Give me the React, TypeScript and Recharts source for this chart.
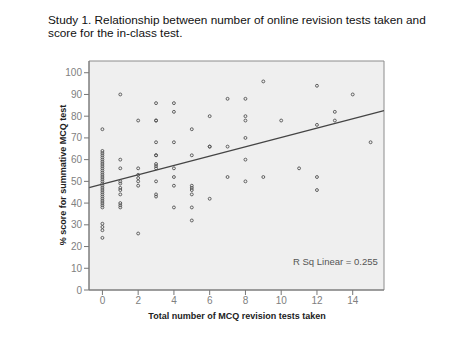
import React from 'react';
import { ScatterChart, Scatter, XAxis, YAxis, ReferenceLine, ReferenceArea } from 'recharts';

// scores (%), grouped by number of revision tests taken
const scoresAt0 = [74, 64, 63, 62, 61, 60, 59, 58, 57, 56, 55, 54, 53, 52, 51, 50, 49, 48, 47, 46, 45, 44, 43, 42, 41, 40, 39, 38, 30.5, 29, 27.5, 24];
const scoresAt1 = [90, 60, 56, 50, 49, 47, 46, 44, 40, 39, 38];
const scoresAt2 = [78, 56, 53, 51.5, 50, 48, 26];
const scoresAt3 = [86, 78, 78, 68, 62, 62, 58, 57, 56, 50, 44, 43];
const scoresAt4 = [86, 82, 68, 56, 52, 48, 38];
const scoresAt5 = [74, 62, 48, 47, 46, 44, 38, 32];
const scoresAt6 = [80, 66, 66, 42];
const scoresAt7 = [88, 66, 52];
const scoresAt8 = [88, 80, 78, 70, 60, 50];
const scoresAt9 = [96, 52];
const scoresAt10 = [78];
const scoresAt11 = [56];
const scoresAt12 = [94, 76, 52, 46];
const scoresAt13 = [82, 78];
const scoresAt14 = [90];
const scoresAt15 = [68];

const scoreLists = [
  scoresAt0, scoresAt1, scoresAt2, scoresAt3, scoresAt4, scoresAt5, scoresAt6, scoresAt7,
  scoresAt8, scoresAt9, scoresAt10, scoresAt11, scoresAt12, scoresAt13, scoresAt14, scoresAt15,
];

const xTicks = [0, 2, 4, 6, 8, 10, 12, 14];
const yTicks = [0, 10, 20, 30, 40, 50, 60, 70, 80, 90, 100];

// linear fit shown in the figure
const fitIntercept = 48.7;
const fitSlope = 2.15;
const rSquared = 0.255;

const xDomain: [number, number] = [-0.75, 15.75];
const yDomain: [number, number] = [0, 105.4];

const points = scoreLists.flatMap((list, tests) => list.map((score) => ({ tests, score })));

const fitSegment = [
  { x: xDomain[0], y: fitIntercept + fitSlope * xDomain[0] },
  { x: xDomain[1], y: fitIntercept + fitSlope * xDomain[1] },
];

const font = '"Liberation Sans", Arial, sans-serif';

const OpenCircle = (props: any) => (
  <circle cx={props.cx} cy={props.cy} r={1.45} fill="none" stroke="#505050" strokeWidth={0.9} />
);

export default function App() {
  return (
    <div style={{ position: 'absolute', left: 0, top: 0, width: 474, height: 355, background: '#fff', fontFamily: font }}>
      <div style={{ position: 'absolute', left: 48, top: 14, fontSize: 11.8, lineHeight: '12.5px', color: '#111' }}>
        Study 1. Relationship between number of online revision tests taken and
        <br />
        score for the in-class test.
      </div>

      <ScatterChart width={474} height={355} margin={{ top: 61, right: 90, bottom: 0, left: 0 }}>
        <ReferenceArea
          x1={xDomain[0]}
          x2={xDomain[1]}
          y1={yDomain[0]}
          y2={yDomain[1]}
          fill="#efefef"
          fillOpacity={1}
          stroke="#8c8c8c"
          strokeWidth={1}
        />
        <XAxis
          type="number"
          dataKey="tests"
          domain={xDomain}
          ticks={xTicks}
          allowDataOverflow
          height={65}
          tickSize={5}
          stroke="#777"
          tick={{ fill: '#808080', fontSize: 10, fontFamily: font }}
        />
        <YAxis
          type="number"
          dataKey="score"
          domain={yDomain}
          ticks={yTicks}
          allowDataOverflow
          width={89}
          tickSize={5}
          stroke="#777"
          tick={{ fill: '#808080', fontSize: 10, fontFamily: font }}
        />
        <ReferenceLine segment={fitSegment} stroke="#444" strokeWidth={1.2} />
        <Scatter data={points} shape={OpenCircle} isAnimationActive={false} />
      </ScatterChart>

      <div
        style={{
          position: 'absolute',
          left: 63,
          top: 175,
          transform: 'translate(-50%, -50%) rotate(-90deg)',
          whiteSpace: 'nowrap',
          fontSize: 9,
          fontWeight: 'bold',
          color: '#222',
        }}
      >
        % score for summative MCQ test
      </div>
      <div
        style={{
          position: 'absolute',
          left: 237,
          top: 316,
          transform: 'translate(-50%, -50%)',
          whiteSpace: 'nowrap',
          fontSize: 9,
          fontWeight: 'bold',
          color: '#222',
        }}
      >
        Total number of MCQ revision tests taken
      </div>
      <div style={{ position: 'absolute', left: 293, top: 256, fontSize: 9.5, color: '#555', whiteSpace: 'nowrap' }}>
        R Sq Linear = {rSquared}
      </div>
    </div>
  );
}
